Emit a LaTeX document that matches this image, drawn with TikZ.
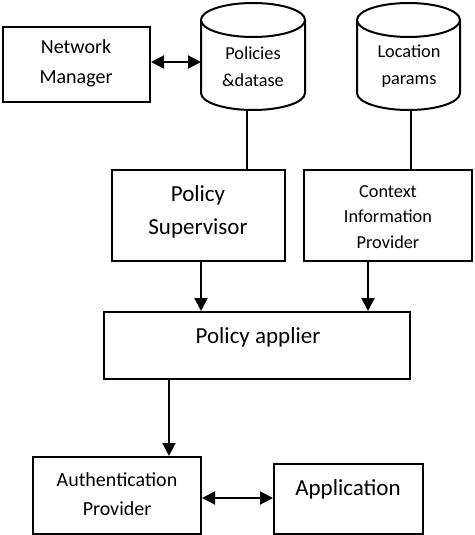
\documentclass[tikz,border=0pt]{standalone}
\usepackage{fontspec}
\setmainfont{Carlito}
\usetikzlibrary{arrows.meta}
\begin{document}
\begin{tikzpicture}[x=1pt,y=-1pt,
  box/.style={draw,line width=2pt,inner sep=0pt},
  txt/.style={align=center,inner sep=0pt},
  conn/.style={line width=2pt},
  arr/.style={line width=2pt,-{Triangle[length=13pt,width=13pt]}},
  darr/.style={line width=2pt,{Triangle[length=13pt,width=13pt]}-{Triangle[length=13pt,width=13pt]}}]
\useasboundingbox (0,0) rectangle (474,535);
% boxes
\node[box,minimum width=147pt,minimum height=75pt] (nm) at (76.5,64.5) {};
\node[box,minimum width=173pt,minimum height=91pt] (ps) at (198.5,215.5) {};
\node[box,minimum width=168pt,minimum height=91pt] (cip) at (388,215.5) {};
\node[box,minimum width=306pt,minimum height=67pt] (pa) at (257,345.5) {};
\node[box,minimum width=168pt,minimum height=77pt] (ap) at (117,495.5) {};
\node[box,minimum width=149pt,minimum height=70pt] (app) at (348.5,499) {};
% cylinders
\draw[line width=2pt] (201,20) arc[start angle=180,end angle=-180,x radius=52,y radius=17]
  (201,20) -- (201,93) arc[start angle=180,end angle=0,x radius=52,y radius=17] -- (305,20);
\draw[line width=2pt] (357,20) arc[start angle=180,end angle=-180,x radius=51.5,y radius=17]
  (357,20) -- (357,93) arc[start angle=180,end angle=0,x radius=51.5,y radius=17] -- (460,20);
\coordinate (polL) at (201,62);
\coordinate (polB) at (247,109.5);
\coordinate (locB) at (411,109.5);
% texts
\node[txt,font=\fontsize{20}{30}\selectfont] (nmt) at (76,63) {Network\\Manager};
\node[txt,font=\fontsize{18.3}{27}\selectfont] (polt) at (253,66.5) {Policies\\\&datase};
\node[txt,font=\fontsize{18.3}{27}\selectfont] (loct) at (409,66.5) {Location\\params};
\node[txt,font=\fontsize{23}{33}\selectfont] (pst) at (198,212) {Policy\\Supervisor};
\node[txt,font=\fontsize{18.3}{25.5}\selectfont] (cipt) at (388,217) {Context\\Information\\Provider};
\node[txt,font=\fontsize{23}{28}\selectfont] (pat) at (258,337) {Policy applier};
\node[txt,font=\fontsize{20}{29}\selectfont] (apt) at (117,494.5) {Authentication\\Provider};
\node[txt,font=\fontsize{23}{28}\selectfont] (appt) at (348,489) {Application};
% connectors
\draw[darr] (nm.east |- polL) -- (polL);
\draw[conn] (polB) -- (polB |- ps.north);
\draw[conn] (locB) -- (locB |- cip.north);
\draw[arr] (ps.south -| 201,0) -- (201,0 |- pa.north);
\draw[arr] (368,0 |- cip.south) -- (368,0 |- pa.north);
\draw[arr] (169,0 |- pa.south) -- (169,0 |- ap.north);
\draw[darr] (ap.east |- 0,498) -- (app.west |- 0,498);
\end{tikzpicture}
\end{document}
